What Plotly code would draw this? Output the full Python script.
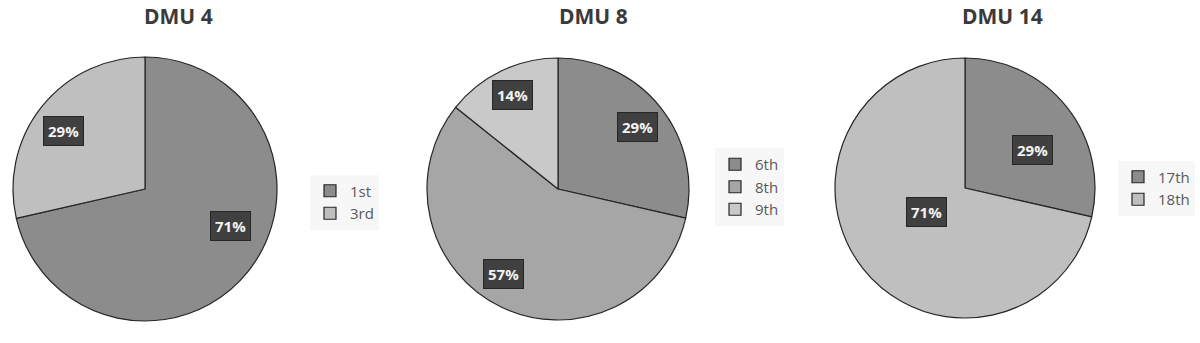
import math
import plotly.graph_objects as go

W, H = 1200, 343

titles = ["DMU 4", "DMU 8", "DMU 14"]
dmu4_labels = ["1st", "3rd"]
dmu4_values = [5, 2]
dmu8_labels = ["6th", "8th", "9th"]
dmu8_values = [2, 4, 1]
dmu14_labels = ["17th", "18th"]
dmu14_values = [2, 5]

labels_all = [dmu4_labels, dmu8_labels, dmu14_labels]
values_all = [dmu4_values, dmu8_values, dmu14_values]

# styles / layout (pixels)
colors_all = [["#8c8c8c", "#bfbfbf"],
              ["#8c8c8c", "#a6a6a6", "#c9c9c9"],
              ["#8c8c8c", "#bfbfbf"]]
centers = [(145, 189), (558, 189), (965, 188)]
radii = [132, 131, 130]
# data-label placement: fraction of radius and angular nudge (degrees) from slice middle
label_frac = [[0.71, 0.76], [0.77, 0.77, 0.80], [0.60, 0.35]]
label_nudge = [[-15, -3], [1, 7, 0], [9, 7]]
title_x = [178, 593, 1002]
legend_pos = [(310, 202), (715, 187), (1118, 188)]

fig = go.Figure()
annotations = []
for i in range(3):
    cx, cy = centers[i]
    r = radii[i]
    dom_x = [(cx - r) / W, (cx + r) / W]
    dom_y = [(H - cy - r) / H, (H - cy + r) / H]
    fig.add_trace(go.Pie(
        labels=labels_all[i], values=values_all[i],
        sort=False, direction="clockwise", rotation=0,
        marker=dict(colors=colors_all[i], line=dict(color="#262626", width=1.2)),
        textinfo="none", hoverinfo="label+percent",
        domain=dict(x=dom_x, y=dom_y),
        legend="legend" if i == 0 else f"legend{i+1}",
        showlegend=True,
    ))
    total = sum(values_all[i])
    cum = 0
    for j, v in enumerate(values_all[i]):
        mid = (cum + v / 2) / total * 2 * math.pi + math.radians(label_nudge[i][j])
        cum += v
        d = label_frac[i][j] * r
        px = cx + d * math.sin(mid)
        py = cy - d * math.cos(mid)
        pct = round(100 * v / total)
        annotations.append(dict(
            x=px / W, y=(H - py) / H, xref="paper", yref="paper",
            xanchor="center", yanchor="middle",
            text=f"<b>{pct}%</b>", showarrow=False,
            font=dict(family="Open Sans", size=15, color="#f2f2f2"),
            bgcolor="#404040", bordercolor="#262626", borderwidth=1, borderpad=4,
        ))
    annotations.append(dict(
        x=title_x[i] / W, y=1.0, xref="paper", yref="paper",
        text=f"<b>{titles[i]}</b>", showarrow=False,
        font=dict(family="Open Sans", size=21, color="#3a3a3a"),
        xanchor="center", yanchor="top",
    ))

legend_style = dict(
    bgcolor="#f7f7f7", font=dict(family="Open Sans", size=15, color="#595959"),
    xref="paper", yref="paper", xanchor="left", yanchor="middle",
    itemclick=False, itemdoubleclick=False,
)
lay = {}
for i in range(3):
    lx, ly = legend_pos[i]
    key = "legend" if i == 0 else f"legend{i+1}"
    lay[key] = dict(x=lx / W, y=(H - ly) / H, **legend_style)

fig.update_layout(
    width=W, height=H,
    margin=dict(l=0, r=0, t=0, b=0, autoexpand=False),
    paper_bgcolor="white", plot_bgcolor="white",
    annotations=annotations,
    **lay,
)
fig.write_html("out.html", config={"displayModeBar": False},
               post_script="document.body.style.margin='0';")
